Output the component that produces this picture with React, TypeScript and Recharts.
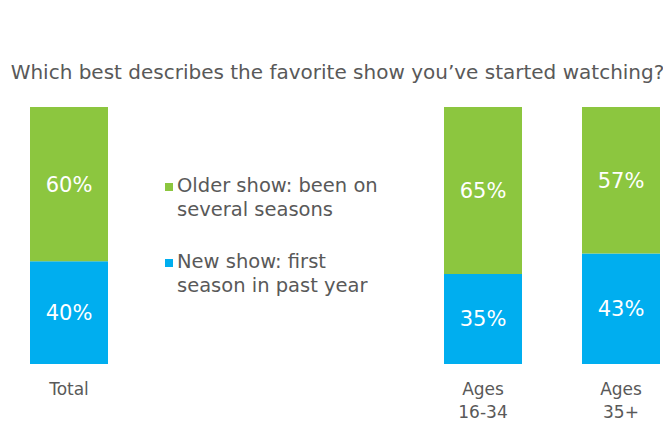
import React from "react";
import { BarChart, Bar, XAxis, YAxis, LabelList, Legend } from "recharts";

const title = "Which best describes the favorite show you\u2019ve started watching?";
const categories = ["Total", "Ages 16-34", "Ages 35+"];
const olderShow = [60, 65, 57];
const newShow = [40, 35, 43];
const seriesNames = ["Older show: been on several seasons", "New show: first season in past year"];
const legendLines = [
  ["Older show: been on", "several seasons"],
  ["New show: first", "season in past year"],
];

const GREEN = "#8CC63F";
const BLUE = "#00AEEF";
const TEXT = "#595959";
const FONT = "'DejaVu Sans', sans-serif";

// layout: the Total bar sits apart, with two empty slots for the legend
const slotOf = (i: number) => (i === 0 ? 0 : i + 2);

const data = categories.map((c, i) => ({
  category: c,
  slot: slotOf(i),
  older: olderShow[i],
  newer: newShow[i],
}));

const CatTick = (props: any) => {
  const { x, y, payload } = props;
  const idx = data.findIndex((d) => d.slot === payload.value);
  if (idx < 0) return null;
  const label = data[idx].category;
  const parts = label.split(" ");
  return (
    <text x={x} y={y} textAnchor="middle" fill={TEXT} fontSize={17} fontFamily={FONT}>
      {parts.map((p: string, i: number) => (
        <tspan key={i} x={x} dy={i === 0 ? 31 : 23}>
          {p}
        </tspan>
      ))}
    </text>
  );
};

const LegendContent = () => {
  const colors = [GREEN, BLUE];
  return (
    <div style={{ fontFamily: FONT, fontSize: 19.5, color: TEXT, lineHeight: "24px" }}>
      {legendLines.map((lines, i) => (
        <div key={i} style={{ display: "flex", alignItems: "flex-start", marginBottom: i === 0 ? 28 : 0 }}>
          <span
            title={seriesNames[i]}
            style={{ width: 8, height: 8, background: colors[i], marginTop: 9, marginRight: 4, flex: "none" }}
          />
          <div style={{ whiteSpace: "nowrap" }}>
            {lines.map((l, j) => (
              <div key={j}>{l}</div>
            ))}
          </div>
        </div>
      ))}
    </div>
  );
};

export default function App() {
  return (
    <div style={{ position: "relative", width: 663, height: 432 }}>
      <div
        style={{
          position: "absolute",
          top: 52,
          left: -2,
          width: 663,
          textAlign: "center",
          fontFamily: FONT,
          fontSize: 20,
          lineHeight: "24px",
          color: TEXT,
          whiteSpace: "nowrap",
          zIndex: 2,
        }}
      >
        {title}
      </div>
      <BarChart
        width={663}
        height={432}
        data={data}
        margin={{ top: 99, right: 50, left: 61, bottom: 0 }}
      >
        <XAxis
          type="number"
          dataKey="slot"
          domain={[0, 4]}
          ticks={[0, 3, 4]}
          interval={0}
          axisLine={false}
          tickLine={false}
          tickSize={0}
          tickMargin={0}
          height={76}
          tick={<CatTick />}
        />
        <YAxis hide domain={[0, 100]} />
        <Legend
          layout="vertical"
          align="center"
          verticalAlign="middle"
          content={<LegendContent />}
          wrapperStyle={{ position: "absolute", left: 157, top: 166, width: "auto" }}
        />
        <Bar dataKey="newer" name={seriesNames[1]} stackId="a" fill={BLUE} barSize={78} isAnimationActive={false}>
          <LabelList
            dataKey="newer"
            position="center"
            fill="#FFFFFF"
            fontSize={21}
            fontFamily={FONT}
            formatter={(v: any) => `${v}%`}
          />
        </Bar>
        <Bar dataKey="older" name={seriesNames[0]} stackId="a" fill={GREEN} barSize={78} isAnimationActive={false}>
          <LabelList
            dataKey="older"
            position="center"
            fill="#FFFFFF"
            fontSize={21}
            fontFamily={FONT}
            formatter={(v: any) => `${v}%`}
          />
        </Bar>
      </BarChart>
    </div>
  );
}
